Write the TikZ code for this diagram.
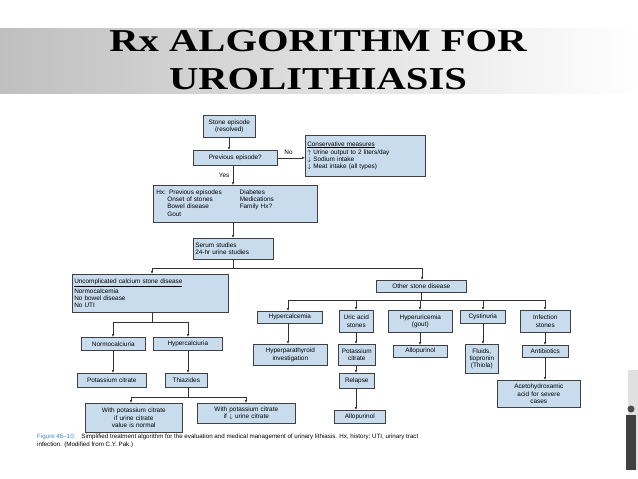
\documentclass[tikz,border=0pt]{standalone}
\usepackage{fontspec}
\setmainfont{Liberation Sans}
\newfontfamily\titlefont{Liberation Serif}
\usetikzlibrary{arrows.meta}
\definecolor{boxfill}{RGB}{200,220,238}
\definecolor{capblue}{RGB}{60,140,200}
\begin{document}
\begin{tikzpicture}[x=1pt,y=-1pt,
  bx/.style={draw=black!75,fill=boxfill,line width=0.6pt,font=\fontsize{6.4}{7.2}\selectfont,inner sep=0pt,align=center,anchor=north west},
  ar/.style={draw=black!80,line width=0.5pt,-{Latex[length=3pt,width=2.5pt]}},
  ln/.style={draw=black!80,line width=0.5pt}]
\useasboundingbox (0,0) rectangle (638,479);
\fill[white] (0,0) rectangle (638,479);
\shade[left color=black!25,right color=white] (0,28) rectangle (638,93);
\node[font=\titlefont\bfseries\fontsize{29}{38}\selectfont,align=center] (title) at (318,60) {\scalebox{1.4}[1.1]{Rx ALGORITHM FOR}\\\scalebox{1.4}[1.1]{UROLITHIASIS}};
\newcommand\mybox[6]{\node[bx,minimum width=#4-#2,minimum height=#5-#3,text width=#4-#2-2] (#1) at (#2,#3) {#6};}
\mybox{stone}{203}{115}{255}{137}{Stone episode\\(resolved)}
\mybox{prev}{193}{150}{277}{165}{Previous episode?}
\node[bx,minimum width=120,minimum height=41,text width=116,align=left] (cons) at (305,135) {\underline{Conservative measures}\\[1pt]$\uparrow$ Urine output to 2 liters/day\\$\downarrow$ Sodium intake\\$\downarrow$ Meat intake (all types)};
\node[bx,minimum width=164,minimum height=37,text width=158,align=left] (hx) at (153,185) {\begin{tabular}{@{}l@{\hspace{18pt}}l@{}}Hx: Previous episodes & Diabetes\\\hspace{11pt}Onset of stones & Medications\\\hspace{11pt}Bowel disease & Family Hx?\\\hspace{11pt}Gout & \end{tabular}};
\node[bx,minimum width=80,minimum height=21,text width=76,align=left] (serum) at (193,238) {Serum studies\\24-hr urine studies};
\node[bx,minimum width=156,minimum height=38,text width=152,align=left] (unc) at (72,274) {\underline{Uncomplicated calcium stone disease}\\[1pt]Normocalcemia\\No bowel disease\\No UTI};
\mybox{other}{376}{280}{466}{292}{Other stone disease}
\mybox{hcalc}{257}{311}{322}{323}{Hypercalcemia}
\mybox{uric}{339}{310}{373}{332}{Uric acid\\stones}
\mybox{huric}{388}{310}{452}{332}{Hyperuricemia\\(gout)}
\mybox{cyst}{460}{310}{505}{323}{Cystinuria}
\mybox{inf}{520}{310}{570}{332}{Infection\\stones}
\mybox{hpara}{253}{344}{327}{365}{Hyperparathyroid\\investigation}
\mybox{kcit}{338}{344}{375}{365}{Potassium\\citrate}
\mybox{allo}{393}{345}{447}{357}{Allopurinol}
\mybox{fluid}{465}{344}{498}{373}{Fluids,\\tiopronin\\(Thiola)}
\mybox{anti}{522}{345}{568}{357}{Antibiotics}
\mybox{rel}{339}{373}{374}{388}{Relapse}
\mybox{allo2}{334}{410}{385}{423}{Allopurinol}
\mybox{aceto}{497}{380}{580}{407}{Acetohydroxamic\\acid for severe\\cases}
\mybox{normo}{81}{337}{145}{350}{Normocalciuria}
\mybox{hyper}{153}{337}{222}{350}{Hypercalciuria}
\mybox{kcit2}{77}{373}{146}{387}{Potassium citrate}
\mybox{thia}{165}{373}{207}{387}{Thiazides}
\mybox{wk1}{85}{403}{182}{432}{With potassium citrate\\if urine citrate\\value is normal}
\mybox{wk2}{197}{403}{295}{423}{With potassium citrate\\if $\downarrow$ urine citrate}
% connectors
\draw[ar] (229,137) -- (229,150);
\draw[ar] (prev) -- node[above,font=\fontsize{6.4}{7}\selectfont,pos=0.4]{No} (cons.west|-prev);
\draw[ar] (233,165) -- node[left,font=\fontsize{6.4}{7}\selectfont]{Yes} (233,185);
\draw[ar] (233,222) -- (233,238);
\draw[ln] (233,259) -- (233,268);
\draw[ln] (152,268) -- (422,268);
\draw[ar] (152,268) -- (152,274);
\draw[ar] (422,268) -- (422,280);
\draw[ln] (421,292) -- (421,300);
\draw[ln] (288,300) -- (545,300);
\draw[ar] (288,300) -- (288,311);
\foreach \x in {356,420,483,545}{\draw[ar] (\x,300) -- (\x,310);}
\draw[ar] (288,323) -- (288,344);
\draw[ar] (356,332) -- (356,344);
\draw[ar] (420,332) -- (420,345);
\draw[ar] (483,323) -- (483,344);
\draw[ar] (545,332) -- (545,345);
\draw[ar] (356,365) -- (356,373);
\draw[ar] (356,388) -- (356,410);
\draw[ar] (545,357) -- (545,380);
\draw[ln] (152,312) -- (152,322);
\draw[ln] (113,322) -- (188,322);
\draw[ar] (113,322) -- (113,337);
\draw[ar] (188,322) -- (188,337);
\draw[ar] (113,350) -- (113,373);
\draw[ar] (188,350) -- (188,373);
\draw[ln] (188,387) -- (188,397);
\draw[ln] (131,397) -- (246,397);
\draw[ar] (131,397) -- (131,403);
\draw[ar] (246,397) -- (246,403);
\node[anchor=north west,font=\fontsize{6.2}{7.4}\selectfont,align=left,inner sep=0pt] (cap) at (37,434) {\textcolor{capblue}{Figure 46--10.}\hspace{6pt}Simplified treatment algorithm for the evaluation and medical management of urinary lithiasis. Hx, history; UTI, urinary tract\\infection. (Modified from C.Y. Pak.)};
\fill[black!12] (628,370) rectangle (638,470);
\fill[black!75] (626,415) rectangle (636,470);
\fill[black!70] (631,409) circle (3.5);
\end{tikzpicture}
\end{document}
